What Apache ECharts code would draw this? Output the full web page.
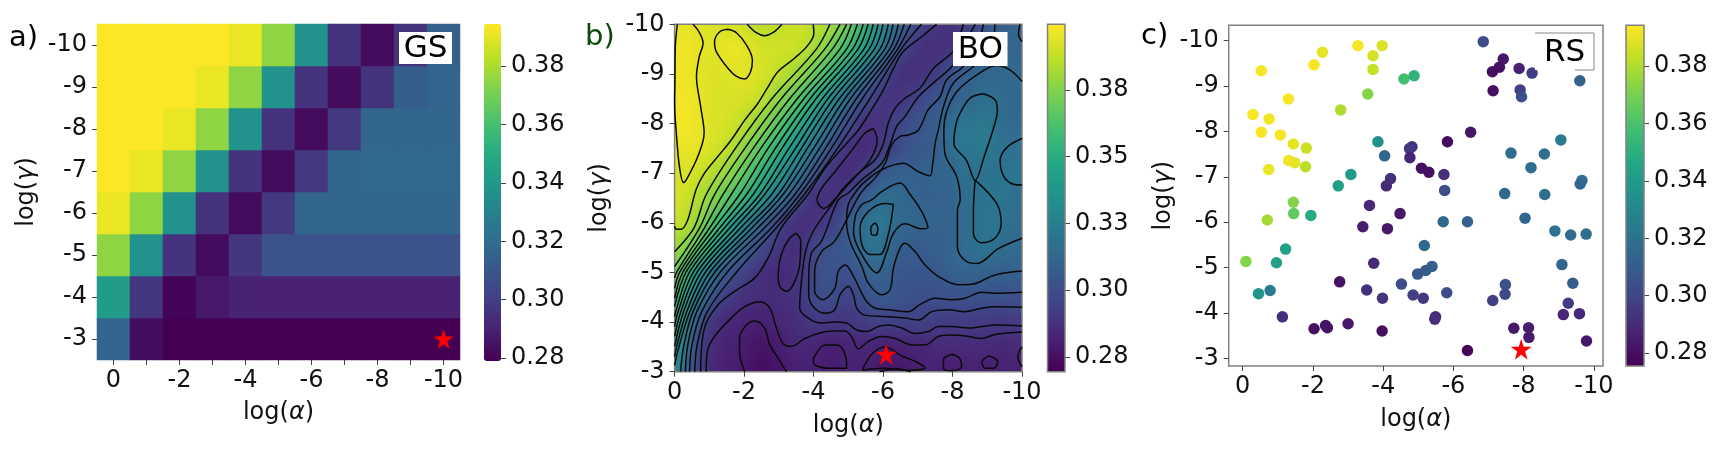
<!DOCTYPE html>
<html><head><meta charset="utf-8">
<style>
html,body{margin:0;padding:0;background:#fff;width:1725px;height:458px;overflow:hidden}
#main{position:absolute;left:0;top:0;width:1725px;height:458px;z-index:2;filter:blur(.4px)}
#clip{position:absolute;left:674.6px;top:24.3px;width:347.4px;height:347.4px;overflow:hidden;z-index:1}
#heat{position:absolute}
</style>
<script src="https://cdn.jsdelivr.net/npm/echarts@6/dist/echarts.min.js"></script>
</head><body>
<div id="clip"><div id="heat"></div></div>
<div id="main"></div>
<script>
const viridis=['#440154','#482475','#414487','#355f8d','#2a788e','#21918c','#22a884','#44bf70','#7ad151','#bddf26','#fde725'];
const FONT='DejaVu Sans';

// ---- a) grid search
const gsAlpha=['0','-1','-2','-3','-4','-5','-6','-7','-8','-9','-10'];
const gsGamma=['-3','-4','-5','-6','-7','-8','-9','-10'];
const gsRowM3 =[.316,.283,.279,.279,.279,.279,.279,.279,.279,.279,.279];
const gsRowM4 =[.342,.297,.280,.287,.290,.290,.290,.290,.290,.290,.290];
const gsRowM5 =[.375,.337,.296,.2825,.297,.308,.308,.308,.308,.308,.308];
const gsRowM6 =[.391,.375,.337,.296,.2825,.298,.317,.317,.317,.317,.317];
const gsRowM7 =[.394,.391,.375,.337,.296,.2825,.298,.317,.318,.318,.318];
const gsRowM8 =[.394,.394,.391,.375,.337,.296,.2825,.298,.317,.317,.317];
const gsRowM9 =[.394,.394,.394,.391,.375,.337,.296,.2825,.296,.313,.316];
const gsRowM10=[.394,.394,.394,.394,.391,.375,.337,.296,.2825,.296,.315];
const gsRows=[gsRowM3,gsRowM4,gsRowM5,gsRowM6,gsRowM7,gsRowM8,gsRowM9,gsRowM10];
const gsBest=['-10','-3'];
const gsBarTicks=[.28,.30,.32,.34,.36,.38];

// ---- b) bayesian optimisation: rows gamma -10..-3 step .5, columns alpha 0..-10 step .5
const boRows=[
[.395,.395,.392,.392,.390,.385,.387,.390,.388,.382,.370,.351,.330,.311,.297,.290,.287,.293,.305,.310,.312],
[.396,.397,.393,.396,.395,.391,.391,.390,.383,.371,.357,.341,.321,.297,.288,.286,.289,.300,.308,.312,.312],
[.397,.396,.392,.393,.395,.392,.388,.381,.369,.354,.336,.318,.298,.286,.287,.291,.304,.310,.312,.313,.313],
[.397,.397,.393,.392,.392,.388,.377,.366,.350,.332,.315,.298,.288,.288,.296,.304,.308,.313,.319,.314,.312],
[.397,.398,.393,.392,.387,.377,.365,.350,.334,.317,.300,.287,.288,.298,.303,.307,.318,.321,.322,.314,.313],
[.395,.396,.393,.388,.377,.365,.351,.336,.319,.302,.287,.284,.290,.301,.305,.307,.318,.322,.322,.316,.319],
[.391,.393,.386,.379,.367,.353,.338,.322,.304,.287,.285,.293,.307,.309,.309,.312,.312,.318,.319,.320,.321],
[.392,.388,.378,.366,.353,.337,.320,.303,.286,.287,.295,.309,.317,.314,.310,.310,.311,.317,.319,.320,.315],
[.389,.384,.366,.348,.328,.311,.296,.287,.287,.292,.307,.318,.322,.312,.313,.310,.311,.315,.321,.318,.314],
[.382,.371,.350,.328,.310,.298,.289,.284,.296,.303,.306,.318,.318,.307,.307,.309,.312,.317,.319,.316,.313],
[.373,.345,.320,.303,.295,.287,.284,.287,.297,.304,.300,.309,.312,.303,.304,.305,.310,.311,.311,.308,.309],
[.359,.332,.307,.292,.287,.286,.286,.288,.299,.302,.293,.302,.306,.303,.301,.301,.302,.302,.302,.302,.302],
[.352,.315,.290,.284,.282,.281,.284,.286,.291,.290,.290,.293,.295,.294,.295,.293,.292,.292,.292,.291,.291],
[.345,.305,.286,.282,.279,.276,.279,.285,.283,.280,.283,.283,.281,.281,.283,.285,.285,.285,.285,.284,.284],
[.335,.300,.285,.281,.279,.273,.277,.281,.281,.279,.282,.281,.278,.277,.281,.283,.279,.282,.280,.282,.280]
];
const boBest=[-6.09,-3.35];
const boBarTicks=[.275,.30,.325,.35,.375];
// contour lines, as magnitudes of [log alpha, log gamma]
const contourTallLobe=[[.08,10],[.02,9.55],[.01,8.88],[0,8.41],[.05,7.81],[.14,7.13],[.26,6.81],[.38,6.92],[.67,7.34],[.85,7.81],[.75,8.34],[.63,8.95],[.71,9.35],[.82,9.62],[.70,9.85],[.53,10]];
const contourTopLobe=[[1.54,9.90],[1.30,9.85],[1.15,9.65],[1.20,9.45],[1.54,9.11],[1.78,8.95],[2.02,8.90],[2.19,9.05],[2.24,9.28],[2.07,9.58],[1.78,9.83],[1.54,9.90]];
const contourTopDip=[[2.09,10],[2.35,9.83],[2.59,9.77],[2.83,9.83],[3.09,10]];
const contourYellowEdge=[[3.99,10],[4.01,9.82],[3.84,9.58],[3.46,9.32],[2.98,9.05],[2.69,8.74],[2.40,8.41],[2.02,8.07],[1.63,7.67],[1.25,7.34],[.86,7.0],[.62,6.67],[.38,6.06],[.19,5.87],[.05,5.87],[0,5.93]];
// the parallel family in the steep diagonal band: alpha magnitude where each line meets these gamma levels
const familyGamma=[10,9.5,8.5,7.5,6.57,5.9,5.02,4.21,3.54,3];
const familyAlpha=[
[4.47,4.08,2.8,1.75,.91,.56,null,null,null,null],
[4.76,4.32,3.07,2.02,1.15,.72,null,null,null,null],
[4.95,4.54,3.31,2.26,1.39,.86,.07,null,null,null],
[5.09,4.76,3.53,2.48,1.63,1.01,.16,null,null,null],
[5.26,4.95,3.72,2.69,1.87,1.15,.25,null,null,null],
[5.43,5.12,3.9,2.9,2.07,1.3,.34,null,null,null],
[5.57,5.28,4.07,3.09,2.26,1.44,.44,.03,null,null],
[5.72,5.45,4.25,3.29,2.45,1.59,.55,.1,null,null],
[5.86,5.6,4.41,3.48,2.59,1.75,.66,.18,null,null],
[6.0,5.75,4.57,3.65,2.79,1.9,.78,.26,null,null],
[6.15,5.91,4.74,3.82,2.98,2.07,.9,.35,.07,null],
[6.29,6.05,4.9,4.0,3.12,2.23,1.03,.44,.14,null],
[6.44,6.19,5.06,4.17,3.29,2.4,1.17,.53,.27,.17],
[6.61,6.31,5.23,4.34,3.46,2.59,1.33,.64,.38,.31],
[6.8,6.42,5.4,4.51,3.6,2.79,1.53,.78,.5,.43],
[7.11,6.52,5.62,4.69,3.73,2.93,1.8,.94,.65,.58]
];
const familyLeftEnd=[5.42,5.12,4.89,4.68,4.48,4.31,4.11,3.91,3.71,3.51,3.3,3.13,null,null,null,null];
const contourBandEdge=[[7.54,10],[7.11,9.75],[6.58,9.45],[6.30,9.11],[6.01,8.68],[5.67,8.28],[5.29,7.87],[4.91,7.57],[4.33,7.10],[3.84,6.57],[3.07,5.90],[2.69,5.29],[2.31,4.89],[1.73,4.62],[1.25,4.35],[.86,3.88],[.75,3]];
const contourBandLobe=[[5.72,7.90],[5.47,7.80],[5.11,7.47],[4.65,7.06],[4.23,6.69],[4.10,6.46],[4.29,6.29],[4.59,6.46],[5.11,6.86],[5.62,7.26],[5.83,7.67],[5.72,7.90]];
const contourMidLobe=[[3.51,5.79],[3.31,5.69],[3.07,5.36],[2.98,4.95],[3.03,4.72],[3.22,4.62],[3.41,4.75],[3.60,5.15],[3.63,5.63],[3.51,5.79]];
const contourBottomHill=[[2.02,3],[1.87,3.40],[1.87,3.67],[2.07,3.94],[2.31,4.02],[2.59,3.88],[2.74,3.54],[2.98,3.27],[3.22,3]];
const contourLowWave=[[.91,3],[.94,3.40],[1.15,3.71],[1.63,4.08],[2.02,4.31],[2.45,4.41],[2.74,4.28],[2.93,3.88],[3.12,3.57],[3.36,3.51],[3.75,3.67],[4.23,3.79],[4.61,3.82],[4.9,3.82],[5.1,3.7],[5.29,3.46],[5.58,3.61],[5.96,3.71],[6.35,3.67],[6.83,3.54],[7.21,3.54],[7.59,3.71],[7.98,3.74],[8.46,3.71],[8.84,3.67],[9.22,3.75],[10,3.8]];
const contourWaveB=[[8.31,10],[8.17,9.68],[8.02,9.45],[7.45,9.11],[7.06,8.71],[6.63,8.51],[6.35,8.31],[6.15,8.01],[6.01,7.60],[5.77,7.27],[5.29,7.0],[4.81,6.66],[4.62,6.46],[3.99,5.83],[3.77,5.42],[3.65,4.82],[3.60,4.28],[3.89,4.06],[4.23,3.98],[4.61,4.0],[4.95,3.98],[5.24,3.84],[5.53,3.81],[5.87,3.91],[6.15,3.94],[6.54,3.88],[6.92,3.77],[7.31,3.81],[7.59,3.91],[7.98,3.91],[8.46,3.88],[8.84,3.91],[9.22,3.94],[10,3.92]];
const contourWaveC=[[8.65,10],[8.36,9.62],[8.02,9.18],[7.5,8.85],[7.02,8.54],[6.63,8.14],[6.39,7.94],[6.2,7.57],[5.96,7.2],[5.39,6.87],[5.0,6.6],[4.71,6.46],[4.23,5.63],[3.94,5.39],[3.86,4.89],[3.86,4.55],[3.99,4.31],[4.32,4.18],[4.61,4.25],[4.76,4.55],[4.91,4.68],[5.0,4.72],[5.15,4.55],[5.24,4.28],[5.48,4.14],[6.06,4.11],[6.63,4.08],[7.02,4.04],[7.4,4.21],[7.88,4.25],[8.36,4.21],[8.84,4.28],[9.22,4.31],[10,4.30]];
const contourWaveD=[[8.89,10],[8.7,9.55],[8.31,9.15],[7.83,8.88],[7.64,8.54],[7.3,8.28],[7.02,7.87],[6.73,7.77],[6.49,7.74],[6.25,7.57],[6.06,7.2],[5.77,6.9],[5.48,6.7],[5.29,6.53],[4.61,5.63],[4.23,5.42],[4.03,5.02],[4.03,4.62],[4.27,4.45],[4.61,4.68],[4.71,5.02],[4.91,5.15],[5.15,4.92],[5.34,4.65],[5.53,4.41],[5.77,4.28],[6.15,4.25],[6.73,4.21],[7.06,4.35],[7.5,4.48],[7.98,4.45],[8.36,4.48],[8.84,4.6],[9.22,4.58],[10,4.6]];
const contourNotch=[[9.22,10],[9.1,9.5],[8.6,9.15],[8.02,8.81],[7.74,8.34],[7.59,7.87],[7.5,7.6],[7.42,7.13],[7.35,6.95],[7.02,7.03],[6.58,7.2],[5.96,7.07],[5.43,6.8],[5.15,6.56],[5.0,6.37],[4.95,6.03],[5.05,5.63],[5.39,5.12],[5.58,4.78],[5.96,4.55],[6.2,4.65],[6.3,5.09],[6.49,5.49],[6.63,5.59],[6.92,5.42],[7.21,5.15],[7.59,4.92],[8.17,4.75],[8.55,4.76],[9.22,4.95],[10,5.03]];
const contourTongue=[[5.21,6.16],[5.15,5.83],[5.34,5.42],[5.82,4.99],[6.11,5.42],[6.3,5.79],[6.63,5.98],[7.11,5.88],[7.29,5.9],[7.11,6.23],[6.78,6.57],[6.49,6.8],[5.96,6.63],[5.67,6.46],[5.39,6.37],[5.21,6.16]];
const contourPeak=[[6.3,6.37],[6.06,6.39],[5.58,6.23],[5.34,5.9],[5.39,5.56],[5.63,5.36],[5.91,5.36],[6.15,5.76],[6.3,6.37]];
const contourPeakTop=[[5.77,6.0],[5.65,5.9],[5.67,5.76],[5.79,5.75],[5.85,5.9],[5.77,6.0]];
const contourRightOuter=[[10,8.85],[9.65,9.08],[9.27,9.17],[8.7,8.98],[8.12,8.64],[7.83,8.24],[7.75,7.87],[7.78,7.4],[8.12,6.93],[8.22,6.46],[8.14,6.26],[8.14,5.52],[8.4,5.22],[8.7,5.18],[9.32,5.48],[10,5.69]];
const contourEightTop=[[8.89,8.6],[8.5,8.51],[8.17,8.14],[8.07,7.87],[8.04,7.6],[8.4,7.26],[8.65,6.86],[8.91,7.33],[9.22,8.0],[9.29,8.28],[9.22,8.48],[8.89,8.6]];
const contourEightBottom=[[8.65,6.86],[8.6,6.19],[8.6,5.79],[8.81,5.6],[9.22,5.69],[9.4,5.99],[9.27,6.39],[8.65,6.86]];
const contourRightArc=[[10,7.7],[9.58,7.53],[9.37,7.26],[9.48,6.93],[9.78,6.77],[10,6.76]];
const contourCornerArc=[[9.94,10],[9.9,9.8],[10,9.65]];
const contourFootA=[[4.0,3.27],[4.33,3.54],[4.69,3.54],[4.95,3.2],[4.95,3.07],[4.43,3.07],[4.0,3.17],[4.0,3.27]];
const contourStarHill=[[5.4,3.03],[5.7,3.37],[6.06,3.5],[6.5,3.33],[6.95,3.2],[7.2,3.08],[6.8,3.03],[6.0,3.07],[5.4,3.03]];
const contourStarFoot=[[5.9,3],[6.4,3.06],[6.8,3]];
const contourDotA=[[7.98,3.35],[7.74,3.24],[7.74,3.07],[7.98,3.02],[8.26,3.1],[8.2,3.27],[7.98,3.35]];
const contourDotB=[[9.04,3.32],[8.85,3.2],[8.94,3.07],[9.2,3.07],[9.3,3.2],[9.04,3.32]];
const contourDotC=[[10,3.5],[9.88,3.3],[10,3.1]];
const boContours=[contourTallLobe,contourTopLobe,contourTopDip,contourYellowEdge,contourBandEdge,contourBandLobe,contourMidLobe,contourBottomHill,contourLowWave,contourWaveB,contourWaveC,contourWaveD,contourNotch,contourTongue,contourPeak,contourPeakTop,contourRightOuter,contourEightTop,contourEightBottom,contourRightArc,contourCornerArc,contourFootA,contourStarHill,contourStarFoot,contourDotA,contourDotB,contourDotC];
familyAlpha.forEach((row,k)=>{
  const line=[];
  row.forEach((a,i)=>{ if(a!==null) line.push([a,familyGamma[i]]); });
  if(familyLeftEnd[k]!==null) line.push([0,familyLeftEnd[k]]);
  boContours.push(line);
});

// ---- c) random search: [log alpha, log gamma, score]
const rsPoints=[
[-6.85,-9.97,.303],[-7.42,-9.59,.283],[-7.31,-9.41,.281],[-7.11,-9.31,.280],[-7.87,-9.38,.287],[-8.24,-9.28,.297],[-9.60,-9.11,.313],[-7.13,-8.89,.280],[-7.90,-8.91,.298],[-7.94,-8.76,.303],
[-3.28,-9.88,.393],[-3.97,-9.88,.388],[-3.71,-9.66,.387],[-3.71,-9.36,.384],[-2.27,-9.74,.390],[-2.03,-9.46,.393],[-.53,-9.33,.393],[-4.59,-9.15,.358],[-4.88,-9.22,.352],[-3.56,-8.82,.372],
[-1.30,-8.71,.393],[-2.79,-8.47,.380],[-.29,-8.37,.393],[-.75,-8.27,.392],[-.53,-7.98,.393],[-1.07,-7.92,.393],[-1.44,-7.72,.390],[-1.81,-7.63,.385],[-1.31,-7.36,.392],[-1.48,-7.31,.390],[-1.79,-7.22,.382],[-.74,-7.16,.391],
[-3.85,-7.77,.335],[-4.04,-7.46,.315],[-4.82,-7.66,.293],[-4.75,-7.62,.295],[-4.76,-7.42,.288],[-5.83,-7.77,.279],[-6.49,-7.98,.283],[-9.06,-7.81,.325],[-7.64,-7.52,.318],[-8.59,-7.50,.318],[-8.21,-7.20,.318],
[-5.09,-7.19,.280],[-5.30,-7.10,.280],[-5.73,-7.05,.291],[-5.75,-6.70,.303],[-4.21,-6.96,.292],[-4.09,-6.80,.290],[-3.08,-7.05,.340],[-2.72,-6.80,.342],[-9.66,-6.92,.318],[-9.61,-6.84,.315],[-7.46,-6.63,.316],[-8.60,-6.61,.318],
[-1.44,-6.44,.372],[-1.45,-6.19,.365],[-1.94,-6.15,.348],[-.70,-6.05,.378],[-3.61,-6.37,.289],[-4.48,-6.19,.283],[-3.42,-5.90,.285],[-4.12,-5.86,.283],[-5.71,-6.01,.315],[-6.40,-6.01,.312],[-8.04,-6.09,.315],[-8.89,-5.81,.320],[-9.34,-5.72,.317],[-9.78,-5.74,.318],
[-5.17,-5.49,.316],[-1.22,-5.41,.343],[-.09,-5.14,.372],[-.96,-5.11,.343],[-3.73,-5.10,.289],[-5.39,-5.03,.311],[-5.21,-4.94,.310],[-4.98,-4.86,.308],[-9.09,-5.07,.315],
[-2.76,-4.69,.281],[-.78,-4.50,.325],[-.45,-4.43,.338],[-3.53,-4.51,.292],[-4.52,-4.64,.303],[-7.48,-4.63,.305],[-9.40,-4.66,.310],[-4.85,-4.40,.297],[-5.14,-4.33,.295],[-3.98,-4.33,.293],[-5.81,-4.45,.303],[-7.47,-4.42,.302],[-7.12,-4.28,.297],[-9.27,-4.22,.297],
[-1.13,-3.92,.292],[-5.49,-3.92,.289],[-5.47,-3.87,.291],[-9.13,-3.97,.288],[-9.59,-3.99,.289],[-2.03,-3.66,.281],[-2.36,-3.73,.281],[-2.41,-3.68,.282],[-3.00,-3.77,.283],[-3.97,-3.61,.280],[-7.72,-3.67,.283],[-8.14,-3.68,.286],[-8.15,-3.47,.284],[-6.40,-3.18,.277],[-9.79,-3.39,.283]
];
const rsBest=[-7.93,-3.21];
const rsAlphaTicks=[0,-2,-4,-6,-8,-10];
const rsGammaTicks=[-3,-4,-5,-6,-7,-8,-9,-10];
const rsBarTicks=[.28,.30,.32,.34,.36,.38];

const starPath='path://M50,2 L61,37 98,37 68,58 79,94 50,72 21,94 32,58 2,37 39,37 Z';
const tickCol='#444', frameCol='#808080', textCol='#111';
const lab={fontFamily:FONT,fontSize:24,color:textCol};
const nm=(s)=>({name:s,nameLocation:'middle',nameTextStyle:{fontFamily:FONT,fontSize:24,color:textCol,rich:{i:{fontFamily:FONT,fontSize:24,fontStyle:'italic',color:textCol}}}});
const off={show:false};
const noLine={show:false,onZero:false};

const grids=[
 {left:97,top:24,width:363,height:336},
 {left:484,top:24,width:17,height:337},
 {left:674.6,top:24.3,width:347.4,height:347.4,show:true,borderColor:frameCol,borderWidth:1.5,backgroundColor:'transparent'},
 {left:1047.5,top:24.3,width:17.5,height:347.4,show:true,borderColor:frameCol,borderWidth:1.5,backgroundColor:'transparent',z:6},
 {left:1228.7,top:25.3,width:374.3,height:340.7,show:true,borderColor:frameCol,borderWidth:1.5},
 {left:1626,top:25.3,width:18,height:340.7,show:true,borderColor:frameCol,borderWidth:1.5,backgroundColor:'transparent',z:6}
];
const barAxisY=(gi,min,max,ticks)=>({type:'value',gridIndex:gi,position:'right',min,max,splitLine:off,
  axisLine:noLine,
  axisTick:{show:true,length:5,inside:false,customValues:ticks,lineStyle:{color:tickCol}},
  axisLabel:Object.assign({show:true,margin:10,customValues:ticks,formatter:v=>v.toFixed(2)},lab)});
const barAxisX=(gi)=>({type:'value',gridIndex:gi,min:0,max:1,show:false});

const xAxes=[
 Object.assign({type:'category',gridIndex:0,data:gsAlpha,axisLine:noLine,splitLine:off,
   axisTick:{show:true,alignWithLabel:true,interval:0,length:5,lineStyle:{color:tickCol}},
   axisLabel:Object.assign({interval:1,margin:9},lab)},nm('log({i|α})'),{nameGap:41}),
 barAxisX(1),
 Object.assign({type:'value',gridIndex:2,inverse:true,min:-10,max:0,interval:2,splitLine:off,axisLine:noLine,
   axisTick:{length:5,lineStyle:{color:tickCol}},axisLabel:Object.assign({margin:9},lab)},nm('log({i|α})'),{nameGap:42}),
 barAxisX(3),
 Object.assign({type:'value',gridIndex:4,inverse:true,min:-10.26,max:.4,splitLine:off,axisLine:noLine,
   axisTick:{length:5,customValues:rsAlphaTicks,lineStyle:{color:tickCol}},
   axisLabel:Object.assign({margin:9,customValues:rsAlphaTicks},lab)},nm('log({i|α})'),{nameGap:42}),
 barAxisX(5)
];
const yAxes=[
 Object.assign({type:'category',gridIndex:0,data:gsGamma,axisLine:noLine,splitLine:off,
   axisTick:{show:true,alignWithLabel:true,interval:0,length:5,lineStyle:{color:tickCol}},
   axisLabel:Object.assign({interval:0,margin:10},lab)},nm('log({i|γ})'),{nameGap:58}),
 barAxisY(1,.279,.3944,gsBarTicks),
 Object.assign({type:'value',gridIndex:2,inverse:true,min:-10,max:-3,interval:1,splitLine:off,axisLine:noLine,
   axisTick:{length:5,lineStyle:{color:tickCol}},axisLabel:Object.assign({margin:10},lab)},nm('log({i|γ})'),{nameGap:63}),
 barAxisY(3,.2695,.3996,boBarTicks),
 Object.assign({type:'value',gridIndex:4,inverse:true,min:-10.33,max:-2.84,splitLine:off,axisLine:noLine,
   axisTick:{length:5,customValues:rsGammaTicks,lineStyle:{color:tickCol}},
   axisLabel:Object.assign({margin:10,customValues:rsGammaTicks},lab)},nm('log({i|γ})'),{nameGap:45}),
 barAxisY(5,.2755,.3942,rsBarTicks)
];

const gsData=[];
gsRows.forEach((r,j)=>r.forEach((v,i)=>gsData.push([i,j,v])));
const star=(xi,yi,pt,size)=>({type:'scatter',xAxisIndex:xi,yAxisIndex:yi,data:[pt],symbol:starPath,symbolSize:size,itemStyle:{color:'#ff0000',opacity:1},z:10,silent:true});
const series=[
 {type:'heatmap',xAxisIndex:0,yAxisIndex:0,data:gsData,silent:true},
 {type:'scatter',xAxisIndex:4,yAxisIndex:4,data:rsPoints,symbolSize:11.5,silent:true,z:5,itemStyle:{opacity:1}},
 star(0,0,gsBest,20),star(2,2,boBest,21),star(4,4,rsBest,21)
];
boContours.forEach(c=>series.push({type:'line',xAxisIndex:2,yAxisIndex:2,data:c.map(p=>[-p[0],-p[1]]),smooth:.35,symbol:'none',clip:true,silent:true,z:4,
  lineStyle:{color:'#0a0a0a',width:1.5}}));

const vm=(left,top,w,h,min,max,idx)=>({type:'continuous',show:true,left,top,itemWidth:w,itemHeight:h,padding:0,min,max,dimension:2,seriesIndex:idx,calculable:false,hoverLink:false,text:null,showLabel:false,inRange:{color:viridis},z:1,realtime:false,textStyle:{fontSize:0}});

const label=(t,x,y,col)=>({type:'text',z:20,style:{text:t,x,y,fill:col||'#000',font:'29px "'+FONT+'"',textVerticalAlign:'middle'}});
const tag=(t,x0,y0,x1,y1)=>[{type:'rect',z:19,shape:{x:x0,y:y0,width:x1-x0,height:y1-y0},style:{fill:'#fff'}},
 {type:'text',z:20,style:{text:t,x:(x0+x1)/2,y:(y0+y1)/2+1,fill:'#000',font:'31px "'+FONT+'"',textAlign:'center',textVerticalAlign:'middle'}}];
const graphic=[label('a)',9,38),label('b)',585,37,'#0b4a0b'),label('c)',1141,36),
 ...tag('GS',399,32,452,64),...tag('BO',953,32,1007.5,66),...tag('RS',1535,33,1594,70),
 {type:'polyline',z:21,shape:{points:[[1535,33],[1594,33],[1594,70],[1575,70]]},style:{stroke:'#888',lineWidth:1,fill:null}}];

const chart=echarts.init(document.getElementById('main'),null,{renderer:'canvas'});
chart.setOption({animation:false,backgroundColor:'transparent',grid:grids,xAxis:xAxes,yAxis:yAxes,series,graphic,
 visualMap:[vm(484,24,17,337,.279,.3944,[0]),vm(1047.5,24.3,17.5,347.4,.2695,.3996,[]),vm(1626,25.3,18,340.7,.2755,.3942,[1])]});

// smooth field of panel b: cells centred on the read nodes, edge nodes repeated past the clipped frame
const cw=347.4/20, ch=347.4/14, pad=3;
const heatEl=document.getElementById('heat');
const nx=21+2*pad, ny=15+2*pad;
heatEl.style.cssText='position:absolute;left:'+(-(pad+.5)*cw)+'px;top:'+(-(pad+.5)*ch)+'px;width:'+(nx*cw)+'px;height:'+(ny*ch)+'px;filter:blur(8px)';
const hd=[];
for(let j=0;j<ny;j++)for(let i=0;i<nx;i++){
  const rj=Math.min(14,Math.max(0,j-pad)), ri=Math.min(20,Math.max(0,i-pad));
  hd.push([i,j,boRows[rj][ri]]);
}
const heat=echarts.init(heatEl);
heat.setOption({animation:false,grid:{left:0,top:0,right:0,bottom:0},
 xAxis:{type:'category',data:[...Array(nx).keys()],show:false},
 yAxis:{type:'category',inverse:true,data:[...Array(ny).keys()],show:false},
 visualMap:{show:false,min:.2695,max:.3996,dimension:2,inRange:{color:viridis}},
 series:[{type:'heatmap',data:hd,silent:true,progressive:0}]});
</script>
</body></html>
